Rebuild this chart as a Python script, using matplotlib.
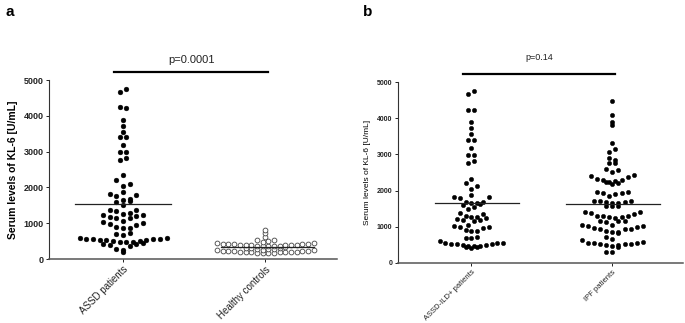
import numpy as np
import matplotlib
matplotlib.use("Agg")
import matplotlib.pyplot as plt

plt.rcParams["font.family"] = ["Liberation Sans", "DejaVu Sans"]

# ---- panel a ----
assd_a = [4760, 4660, 4240, 4230, 3890, 3730, 3550, 3410, 3400, 3190, 2990, 2980,
          2820, 2760, 2340, 2200, 2100, 2050, 1880, 1830, 1790, 1760, 1680, 1660,
          1610, 1600, 1500, 1380, 1370, 1330, 1290, 1270, 1240, 1220, 1200, 1180,
          1160, 1150, 1060, 1030, 1010, 990, 950, 900, 880, 860, 720, 700, 680,
          590, 580, 570, 560, 550, 550, 540, 530, 520, 510, 500, 490, 480, 470,
          440, 430, 420, 390, 370, 290, 250, 200]
healthy = [165, 170, 175, 180, 185, 190, 195, 200, 200, 205, 210, 215, 220, 225,
           230, 235, 240, 245,
           260, 270, 280, 290, 300, 310, 320, 335,
           355, 360, 365, 370, 375, 380, 385, 390, 395, 400, 405, 410, 415, 420,
           425, 430, 440, 445,
           470, 500, 520, 540, 610, 730, 800]
cats_a = ["ASSD patients", "Healthy controls"]
p_a = "p=0.0001"

# ---- panel b ----
assd_b = [4750, 4660, 4240, 4230, 3890, 3720, 3550, 3400, 3390, 3190, 2990, 2980,
          2820, 2750, 2330, 2200, 2130, 2050, 1870, 1830, 1810, 1800, 1690, 1680,
          1670, 1650, 1640, 1600, 1550, 1500, 1370, 1340, 1290, 1280, 1270, 1230,
          1210, 1200, 1180, 1160, 1050, 1020, 1000, 990, 960, 900, 880, 870, 720,
          700, 680, 600, 560, 550, 540, 530, 520, 510, 500, 490, 480, 470, 460,
          440, 430, 420]
ipf = [4470, 4100, 3890, 3810, 3310, 3150, 3060, 2900, 2850, 2770, 2750, 2590,
       2570, 2500, 2440, 2410, 2380, 2330, 2300, 2280, 2260, 2250, 2230, 2200,
       2190, 1960, 1950, 1930, 1920, 1900, 1850, 1720, 1710, 1700, 1690, 1680,
       1670, 1660, 1580, 1570, 1560, 1420, 1400, 1380, 1340, 1310, 1300, 1290,
       1280, 1260, 1250, 1170, 1160, 1150, 1140, 1050, 1040, 1030, 1010, 980,
       960, 950, 940, 930, 880, 860, 850, 840, 720, 650, 620, 580, 560, 550,
       540, 530, 520, 510, 500, 490, 470, 440, 310, 290]
cats_b = ["ASSD-ILD+ patients", "IPF patients"]
p_b = "p=0.14"


def swarm(vals, binh, step, base=0.0):
    # GraphPad-like: bin values into rows, spread each row center-out
    vals = np.asarray(vals, float)
    rows = np.floor((vals - base) / binh).astype(int)
    off = np.zeros(len(vals))
    for r in np.unique(rows):
        idx = np.where(rows == r)[0]
        idx = idx[np.argsort(vals[idx], kind="stable")]
        n = len(idx)
        slots = (np.arange(n) - (n - 1) / 2) * step
        if n % 2 == 1 and n > 1 and r % 2:
            slots = -slots
        order = sorted(range(n), key=lambda k: (abs(slots[k]), (slots[k] < 0) ^ bool(r % 2)))
        for v_i, slot_i in zip(idx, order):
            off[v_i] = slots[slot_i]
    return off


def panel(ax, groups, cats, ptxt, fs_tick, fs_lab, fs_xt, fs_p, bold, styles,
          mean_hw, p_y):
    for i, (vals, st) in enumerate(zip(groups, styles)):
        off = swarm(vals, st["binh"], st["step"], st["base"])
        ax.scatter(i + off, vals, s=st["s"], marker="o", facecolors=st["fc"],
                   edgecolors=st["ec"], linewidths=st["lw"], zorder=3, clip_on=False)
        m = np.mean(vals)
        ax.plot([i - mean_hw[i][0], i + mean_hw[i][1]], [m, m], color="#222222",
                lw=0.9, zorder=4)
    ax.set_xlim(-0.52, 1.5)
    ax.set_ylim(0, 5000)
    ax.set_yticks(range(0, 5001, 1000))
    ax.set_xticks([0, 1])
    ax.set_xticklabels(cats, rotation=45, ha="right", rotation_mode="anchor",
                       fontsize=fs_xt)
    for lab in ax.get_yticklabels():
        lab.set_fontsize(fs_tick)
        lab.set_fontweight("bold")
    ax.set_ylabel("Serum levels of KL-6 [U/mL]", fontsize=fs_lab,
                  fontweight="bold" if bold else "normal")
    for s in ("top", "right"):
        ax.spines[s].set_visible(False)
    ax.spines["left"].set_color("#333333")
    ax.spines["bottom"].set_color("#555555")
    ax.spines["bottom"].set_linewidth(1.1)
    ax.tick_params(length=2.5, width=0.7, pad=1.5, colors="#222222")
    # significance bar
    ax.plot([-0.06, 1.02], [5230, 5230], color="black", lw=1.6, clip_on=False)
    ax.text(0.48, p_y, ptxt, ha="center", va="bottom", fontsize=fs_p,
            color="#222222")


fig = plt.figure(figsize=(6.85, 3.23), dpi=100)
ax_a = fig.add_axes([0.0715, 0.198, 0.42, 0.554])
ax_b = fig.add_axes([0.581, 0.186, 0.416, 0.560])

filled = dict(s=12, fc="black", ec="black", lw=0.3, binh=200, step=0.047, base=50)
openc = dict(s=12, fc="white", ec="#444444", lw=0.6, binh=100, step=0.04, base=-50)
panel(ax_a, [assd_a, healthy], cats_a, p_a, 6.5, 7.5, 7, 8, True,
      [filled, openc], [(0.34, 0.34), (0.31, 0.34)], 5420)

filled_b = dict(s=10, fc="black", ec="black", lw=0.3, binh=200, step=0.041, base=50)
filled_c = dict(s=10, fc="black", ec="black", lw=0.3, binh=200, step=0.043, base=50)
panel(ax_b, [assd_b, ipf], cats_b, p_b, 5, 6, 5.5, 6.5, False,
      [filled_b, filled_c], [(0.26, 0.34), (0.33, 0.34)], 5560)

fig.text(0.008, 0.985, "a", fontsize=11, fontweight="bold", va="top")
fig.text(0.530, 0.985, "b", fontsize=11, fontweight="bold", va="top")

fig.savefig("out.png", dpi=100)
